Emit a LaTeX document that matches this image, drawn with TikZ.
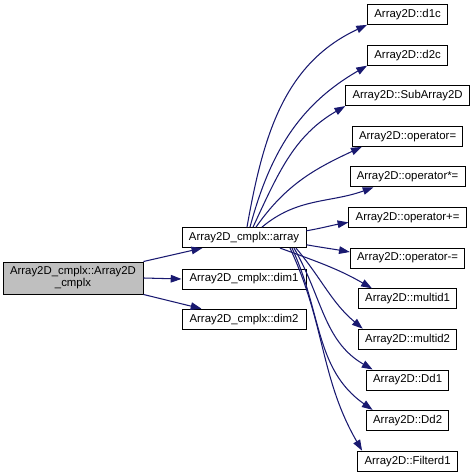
\documentclass[tikz,border=0pt]{standalone}
\usepackage{fontspec}
\setmainfont{Liberation Sans}
\usepackage{tikz}
\usetikzlibrary{arrows.meta}
\definecolor{edgeblue}{RGB}{25,25,112}

\begin{document}
\begin{tikzpicture}[
    font=\fontsize{8.1}{8.6}\selectfont,
    fn/.style={draw, line width=0.7pt, fill=white, inner xsep=0.17cm, inner ysep=0pt, minimum height=0.5cm},
    mid/.style={fn, minimum width=3.1cm},
    call/.style={edgeblue, line width=0.75pt, -{Triangle[length=2.7mm, width=1.9mm]}}
]
\useasboundingbox (0,0) rectangle (11.85,11.9);

% Caller
\node[fn, fill=gray!50, align=center, minimum width=3.5cm, minimum height=0.8cm] (ctor) at (1.825,4.95)
    {Array2D\_cmplx::Array2D\\\_cmplx};

% Direct callees
\node[mid] (array) at (6.1,5.96) {Array2D\_cmplx::array};
\node[mid] (dim1) at (6.1,4.925) {Array2D\_cmplx::dim1};
\node[mid] (dim2) at (6.1,3.92) {Array2D\_cmplx::dim2};

% Callees of array
\node[fn] (d1c) at (10.19,11.54) {Array2D::d1c};
\node[fn] (d2c) at (10.19,10.52) {Array2D::d2c};
\node[fn] (sub) at (10.19,9.51) {Array2D::SubArray2D};
\node[fn] (opeq) at (10.19,8.49) {Array2D::operator=};
\node[fn] (opmul) at (10.19,7.48) {Array2D::operator*=};
\node[fn] (opadd) at (10.19,6.46) {Array2D::operator+=};
\node[fn] (opsub) at (10.19,5.45) {Array2D::operator-=};
\node[fn] (multid1) at (10.19,4.43) {Array2D::multid1};
\node[fn] (multid2) at (10.19,3.42) {Array2D::multid2};
\node[fn] (Dd1) at (10.19,2.40) {Array2D::Dd1};
\node[fn] (Dd2) at (10.19,1.39) {Array2D::Dd2};
\node[fn] (filt) at (10.19,0.37) {Array2D::Filterd1};

% Calls from the constructor
\draw[call] (ctor.north east) -- ([xshift=0.52cm]array.south west);
\draw[call] (ctor.east) -- (dim1.west);
\draw[call] (ctor.south east) -- ([xshift=0.5cm]dim2.north west);

% Calls from array, upwards
\draw[call] ([xshift=0.075cm]array.north) to[out=80, in=205] (d1c.south west);
\draw[call] ([xshift=0.15cm]array.north) to[out=75, in=210] (d2c.south west);
\draw[call] ([xshift=0.225cm]array.north) to[out=65, in=210] (sub.south west);
\draw[call] ([xshift=0.3cm]array.north) to[out=55, in=205] ([xshift=0.25cm]opeq.south west);
\draw[call] ([xshift=0.45cm]array.north) to[out=40, in=200] ([xshift=0.6cm]opmul.south west);
\draw[call] ([yshift=0.17cm]array.east) to[out=10, in=190] ([yshift=-0.12cm]opadd.west);
\draw[call] ([yshift=-0.18cm]array.east) to[out=-10, in=170] ([yshift=0.15cm]opsub.west);

% Calls from array, downwards
\draw[call] ([xshift=0.9cm]array.south) to[out=-20, in=150] ([xshift=0.35cm]multid1.north west);
\draw[call] ([xshift=1.3cm]array.south) to[out=-50, in=140] ([xshift=0.12cm]multid2.north west);
\draw[call] ([xshift=1.25cm]array.south) to[out=-60, in=150] ([xshift=0.17cm]Dd1.north west);
\draw[call] ([xshift=1.2cm]array.south) to[out=-65, in=145] ([xshift=0.17cm]Dd2.north west);
\draw[call] ([xshift=1.15cm]array.south) to[out=-65, in=120] ([xshift=0.12cm]filt.north west);

\end{tikzpicture}
\end{document}
